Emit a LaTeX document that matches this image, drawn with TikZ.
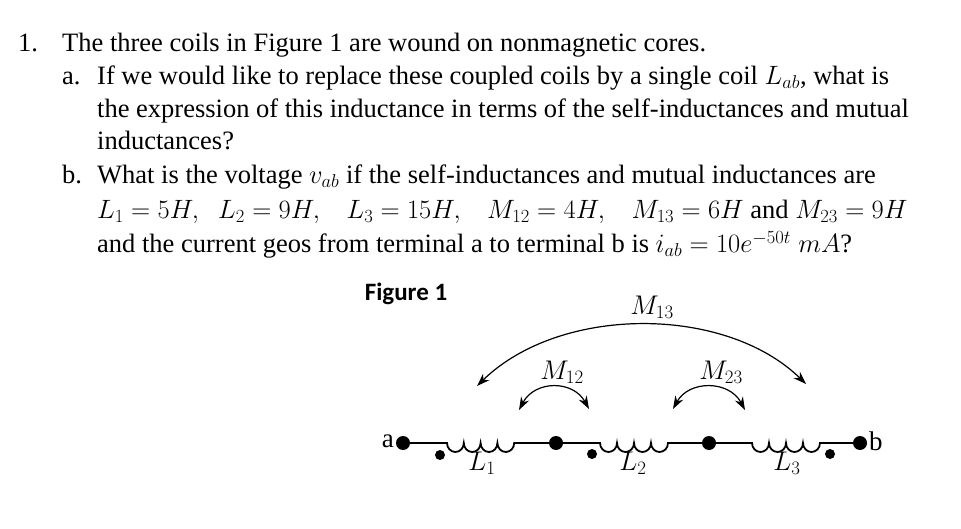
\documentclass[tikz,border=0pt]{standalone}
\usepackage{fix-cm}
\usepackage{fontspec}
\setmainfont{Liberation Serif}
\newfontfamily\figfont{Carlito}
\usetikzlibrary{arrows.meta}
\begin{document}
\begin{tikzpicture}[x=1pt,y=-1pt,
  txt/.style={anchor=base west,inner sep=0pt,font=\fontsize{26.5}{28}\selectfont},
  lbl/.style={inner sep=0pt,font=\fontsize{27}{28}\selectfont},
  wire/.style={line width=1.8pt},
  term/.style={circle,fill=black,inner sep=0pt,minimum size=14pt},
  pol/.style={circle,fill=black,inner sep=0pt,minimum size=10pt},
  mut/.style={line width=1.2pt},
  tip/.tip={Stealth[length=13pt,width=9pt]}]
\useasboundingbox (0,0) rectangle (961,529);
\node[txt] (l0) at (18,52) {1.};
\node[txt] (l1) at (62,52) {The three coils in Figure 1 are wound on nonmagnetic cores.};
\node[txt] (l2) at (62,85) {a.};
\node[txt] (l3) at (97,85) {If we would like to replace these coupled coils by a single coil $L_{ab}$, what is};
\node[txt] (l4) at (97,118) {the expression of this inductance in terms of the self-inductances and mutual};
\node[txt] (l5) at (97,150) {inductances?};
\node[txt] (l6) at (62,184) {b.};
\node[txt] (l7) at (97,184) {What is the voltage $v_{ab}$ if the self-inductances and mutual inductances are};
\node[txt] (l8) at (97,219) {$L_1=5H,\;\;L_2=9H,\;\;\;L_3=15H,\;\;\;M_{12}=4H,\;\;\;M_{13}=6H$ and $M_{23}=9H$};
\node[txt] (l9) at (97,253) {and the current geos from terminal a to terminal b is $i_{ab}=10e^{-50t}\;mA$?};
\node[inner sep=0pt,font=\figfont\bfseries\fontsize{25}{28}\selectfont] (fig) at (406,294) {Figure 1};
% circuit
\node[term] (a) at (403,443) {};
\node[term] (n1) at (556,443) {};
\node[term] (n2) at (709,443) {};
\node[term] (b) at (860,443) {};
\node[lbl,anchor=east] (la) at (394,441) {a};
\node[lbl,anchor=west] (lb) at (869,441) {b};
\coordinate (c1s) at (447,443);
\coordinate (c2s) at (600,443);
\coordinate (c3s) at (752,443);
\draw[wire] (a) -- (c1s) \foreach \i in {1,...,4}{arc[start angle=180,end angle=0,x radius=8.4,y radius=9]} -- (n1)
  -- (c2s) \foreach \i in {1,...,4}{arc[start angle=180,end angle=0,x radius=8.5,y radius=9]} -- (n2)
  -- (c3s) \foreach \i in {1,...,4}{arc[start angle=180,end angle=0,x radius=8.5,y radius=9]} -- (b);
\node[pol] (p1) at (440,455) {};
\node[pol] (p2) at (592,454) {};
\node[pol] (p3) at (830,454) {};
\node[lbl] (L1) at (482,463) {$L_1$};
\node[lbl] (L2) at (633,463) {$L_2$};
\node[lbl] (L3) at (787,463) {$L_3$};
\coordinate (m13a) at (477,386); \coordinate (m13b) at (806,384);
\draw[mut,tip-tip] (m13a) .. controls (560,305) and (725,305) .. (m13b);
\coordinate (m12a) at (519,410); \coordinate (m12b) at (589,409);
\draw[mut,tip-tip] (m12a) .. controls (535,380) and (573,380) .. (m12b);
\coordinate (m23a) at (673,409); \coordinate (m23b) at (745,410);
\draw[mut,tip-tip] (m23a) .. controls (689,380) and (729,380) .. (m23b);
\node[lbl] (M13) at (652,307) {$M_{13}$};
\node[lbl] (M12) at (562,372) {$M_{12}$};
\node[lbl] (M23) at (721,372) {$M_{23}$};
\end{tikzpicture}
\end{document}
